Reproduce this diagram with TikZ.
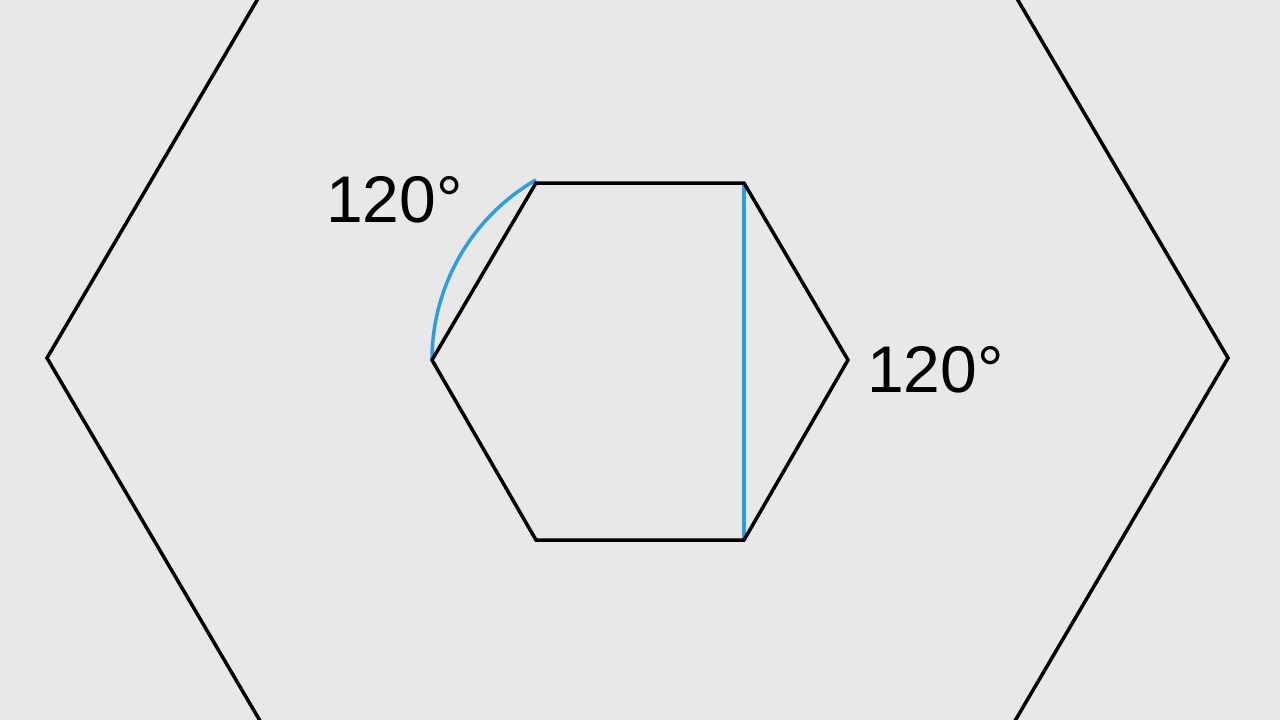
\documentclass[tikz,border=0pt]{standalone}
\usepackage{fontspec}
\setmainfont{Liberation Sans}
\definecolor{bg}{HTML}{E8E8E8}
\definecolor{arcblue}{HTML}{2A9EDE}
\tikzset{
  edge/.style={draw=black, line width=3.5pt, line join=miter},
  blueline/.style={draw=arcblue, line width=3.5pt},
  lbl/.style={inner sep=0pt, anchor=base west, font=\fontsize{66}{66}\selectfont}
}
\begin{document}
\begin{tikzpicture}[x=1pt,y=-1pt]
\fill[bg] (0,0) rectangle (1280,720);
\useasboundingbox (0,0) rectangle (1280,720);
\begin{scope}
\clip (0,0) rectangle (1280,720);
% large hexagon
\coordinate (L1) at (47,358);
\coordinate (L2) at (347,-153);
\coordinate (L3) at (928,-153);
\coordinate (L4) at (1228,358);
\coordinate (L5) at (928,869);
\coordinate (L6) at (347,869);
\draw[edge] (L1) -- (L2) -- (L3) -- (L4) -- (L5) -- (L6) -- cycle;
\end{scope}
% small hexagon
\coordinate (S1) at (432,360);
\coordinate (S2) at (536,183);
\coordinate (S3) at (744,183);
\coordinate (S4) at (848,360);
\coordinate (S5) at (744,540);
\coordinate (S6) at (536,540);
\draw[blueline] (S3) -- (S5);
\draw[blueline] (S1) arc[start angle=180, end angle=240, radius=208];
\draw[edge] (S1) -- (S2) -- (S3) -- (S4) -- (S5) -- (S6) -- cycle;
% labels
\node[lbl] (t1) at (326,222) {120°};
\node[lbl] (t2) at (867,392) {120°};
\end{tikzpicture}
\end{document}
